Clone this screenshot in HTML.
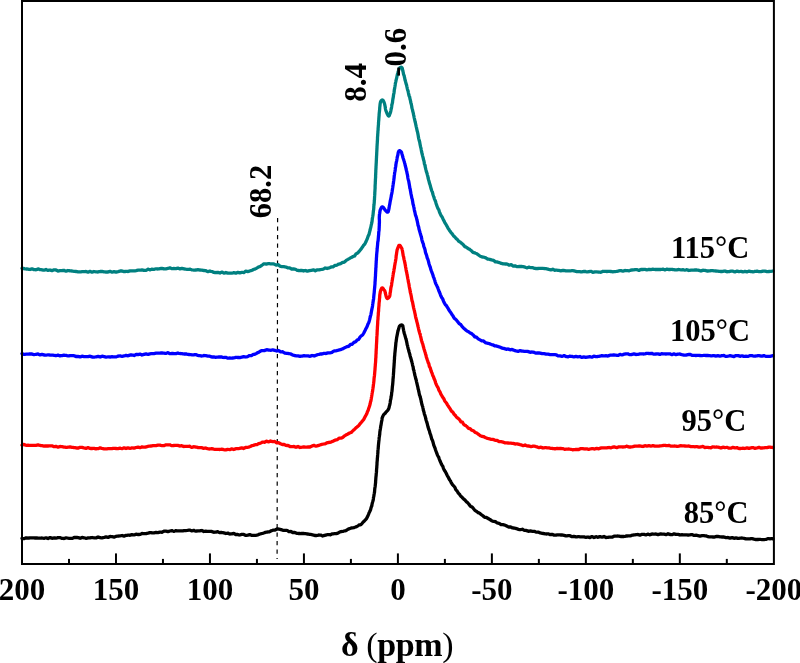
<!DOCTYPE html>
<html><head><meta charset="utf-8"><style>
html,body{margin:0;padding:0;background:#fff;width:800px;height:663px;overflow:hidden}
svg{display:block}
text{font-family:"Liberation Serif","Times New Roman",serif;font-weight:bold;font-size:31px;fill:#000}
.t{font-size:30.5px}
</style></head><body>
<svg width="800" height="663" viewBox="0 0 800 663">
<rect width="800" height="663" fill="#fff"/>
<line x1="277.6" y1="218" x2="277.1" y2="559" stroke="#000" stroke-width="1.2" stroke-dasharray="4.3 4.2"/>
<g fill="none" stroke-width="3.3" stroke-linejoin="round" stroke-linecap="round">
<path stroke="#000000" d="M22.0,538.4 L23.0,538.6 L24.0,538.7 L25.0,538.3 L26.0,537.9 L27.0,538.0 L28.0,538.1 L29.0,538.0 L30.0,537.9 L31.0,537.9 L32.0,537.8 L33.0,537.9 L34.0,537.9 L35.0,538.0 L36.0,538.0 L37.0,538.0 L38.0,538.1 L39.0,538.1 L40.0,538.2 L41.0,538.1 L42.0,538.0 L43.0,538.2 L44.0,538.3 L45.0,538.0 L46.0,537.8 L47.0,538.1 L48.0,538.5 L49.0,538.0 L50.0,537.6 L51.0,537.9 L52.0,538.3 L53.0,538.1 L54.0,538.0 L55.0,538.0 L56.0,538.1 L57.0,537.9 L58.0,537.6 L59.0,537.7 L60.0,537.7 L61.0,538.0 L62.0,538.4 L63.1,538.4 L64.1,538.5 L65.1,538.2 L66.1,537.8 L67.1,538.0 L68.1,538.2 L69.1,538.3 L70.1,538.4 L71.1,538.4 L72.1,538.4 L73.1,538.0 L74.1,537.5 L75.1,537.5 L76.1,537.4 L77.1,537.5 L78.1,537.6 L79.1,537.9 L80.1,538.3 L81.1,537.9 L82.1,537.4 L83.1,537.6 L84.1,537.8 L85.1,538.0 L86.1,538.3 L87.1,538.1 L88.1,537.8 L89.1,537.9 L90.1,537.9 L91.1,537.7 L92.1,537.5 L93.1,537.7 L94.1,537.8 L95.1,537.9 L96.1,537.9 L97.1,537.4 L98.1,537.0 L99.1,537.3 L100.1,537.7 L101.1,537.8 L102.1,537.9 L103.1,537.7 L104.1,537.5 L105.1,537.2 L106.1,536.9 L107.1,537.1 L108.1,537.4 L109.1,536.9 L110.1,536.5 L111.1,536.6 L112.1,536.7 L113.1,536.9 L114.1,537.1 L115.1,536.7 L116.1,536.3 L117.1,536.2 L118.1,536.1 L119.1,536.0 L120.1,535.8 L121.1,535.7 L122.1,535.5 L123.1,535.8 L124.1,536.1 L125.1,535.7 L126.1,535.4 L127.0,535.3 L128.0,535.2 L129.0,535.2 L130.0,535.3 L131.0,534.9 L132.0,534.6 L133.0,534.8 L134.0,534.9 L135.0,534.6 L136.0,534.2 L137.0,534.4 L138.0,534.5 L139.0,534.5 L140.0,534.4 L141.0,534.0 L142.0,533.5 L143.0,533.6 L144.0,533.6 L145.0,533.7 L146.0,533.7 L147.0,533.4 L148.0,533.2 L149.0,532.9 L150.0,532.6 L151.0,532.7 L152.0,532.9 L153.0,532.8 L154.0,532.8 L155.0,532.6 L156.0,532.4 L157.0,532.6 L157.9,532.7 L158.9,532.4 L159.9,532.1 L160.9,532.2 L161.9,532.3 L162.9,531.7 L163.9,531.2 L164.9,531.1 L165.9,531.1 L166.9,531.3 L167.9,531.6 L168.9,531.3 L169.9,531.0 L170.9,530.8 L171.9,530.6 L172.9,531.0 L173.9,531.3 L174.9,531.0 L175.9,530.6 L176.9,530.8 L177.9,530.9 L178.9,530.9 L179.9,530.8 L180.9,530.9 L181.9,530.9 L182.9,530.8 L183.9,530.6 L184.8,530.7 L185.8,530.7 L186.8,530.5 L187.8,530.3 L188.8,530.2 L189.8,530.2 L190.8,530.5 L191.8,530.9 L192.8,530.7 L193.8,530.4 L194.8,530.8 L195.8,531.1 L196.8,531.0 L197.8,530.9 L198.8,530.9 L199.8,530.9 L200.8,530.7 L201.8,530.5 L202.8,531.0 L203.8,531.5 L204.8,531.3 L205.8,531.1 L206.8,531.3 L207.8,531.4 L208.8,531.4 L209.8,531.4 L210.8,531.4 L211.8,531.4 L212.8,531.9 L213.8,532.3 L214.8,532.2 L215.8,532.2 L216.8,531.9 L217.8,531.7 L218.8,532.2 L219.8,532.6 L220.8,532.5 L221.8,532.5 L222.8,532.7 L223.8,532.9 L224.8,533.2 L225.8,533.5 L226.8,533.3 L227.8,533.1 L228.8,533.6 L229.8,534.0 L230.8,533.9 L231.8,533.9 L232.8,533.6 L233.8,533.4 L234.8,534.0 L235.8,534.6 L236.8,534.5 L237.8,534.5 L238.8,534.8 L239.8,535.0 L240.8,534.7 L241.8,534.3 L242.8,534.4 L243.8,534.4 L244.8,534.9 L245.8,535.4 L246.8,535.3 L247.8,535.2 L248.8,534.9 L249.8,534.6 L250.8,535.0 L251.8,535.4 L252.7,535.3 L253.7,535.3 L254.7,535.3 L255.7,535.4 L256.7,535.2 L257.7,534.9 L258.7,534.5 L259.7,534.0 L260.6,533.8 L261.6,533.5 L262.6,533.3 L263.6,533.0 L264.5,532.7 L265.5,532.4 L266.4,532.2 L267.4,532.0 L268.4,531.9 L269.3,531.9 L270.3,531.3 L271.2,530.8 L272.2,530.5 L273.2,530.2 L274.1,530.1 L275.1,530.0 L276.1,529.5 L277.0,528.9 L278.0,529.0 L279.0,529.1 L280.0,529.3 L281.0,529.6 L282.0,529.9 L282.9,530.3 L283.9,530.3 L284.9,530.3 L285.9,530.3 L286.9,530.3 L287.9,530.9 L288.9,531.6 L289.9,531.6 L290.9,531.5 L291.8,532.0 L292.8,532.6 L293.8,532.5 L294.8,532.5 L295.8,532.9 L296.7,533.3 L297.7,533.4 L298.7,533.5 L299.7,533.5 L300.6,533.6 L301.6,533.5 L302.6,533.4 L303.6,533.5 L304.6,533.6 L305.6,533.7 L306.6,533.9 L307.6,534.0 L308.6,534.1 L309.6,534.3 L310.6,534.4 L311.6,534.6 L312.6,534.8 L313.6,535.2 L314.7,535.5 L315.7,535.5 L316.7,535.5 L317.7,535.3 L318.7,535.0 L319.7,535.1 L320.7,535.1 L321.7,535.6 L322.6,536.0 L323.6,535.7 L324.6,535.4 L325.6,535.1 L326.6,534.8 L327.5,534.7 L328.5,534.6 L329.5,534.7 L330.4,534.8 L331.4,534.3 L332.4,533.8 L333.3,533.8 L334.3,533.7 L335.3,533.7 L336.2,533.7 L337.2,533.4 L338.1,533.0 L339.1,532.4 L340.1,531.8 L341.0,531.6 L342.0,531.5 L343.0,531.3 L344.0,531.0 L344.9,530.8 L345.9,530.6 L346.9,530.0 L347.9,529.3 L348.9,528.9 L349.9,528.5 L350.8,528.2 L351.8,527.9 L352.8,527.8 L353.8,527.7 L354.7,527.3 L355.6,527.0 L356.6,526.6 L357.5,526.1 L358.4,525.5 L359.2,524.9 L360.1,524.8 L360.9,524.6 L361.7,523.8 L362.4,523.0 L363.1,522.2 L363.8,521.5 L364.5,520.8 L365.1,520.2 L365.7,519.5 L366.3,518.9 L366.8,518.0 L367.3,517.1 L367.8,516.0 L368.3,514.9 L368.7,513.9 L369.1,512.8 L369.5,512.1 L369.9,511.3 L370.2,510.5 L370.6,509.7 L370.9,508.4 L371.2,507.2 L371.5,506.6 L371.8,505.9 L372.0,504.5 L372.3,503.1 L372.5,502.3 L372.8,501.4 L373.0,500.7 L373.2,500.0 L373.4,498.7 L373.5,497.4 L373.7,496.7 L373.9,495.9 L374.0,494.9 L374.2,493.8 L374.3,493.1 L374.5,492.3 L374.6,491.0 L374.7,489.6 L374.8,488.5 L375.0,487.4 L375.1,486.8 L375.2,486.2 L375.3,485.2 L375.4,484.2 L375.5,483.3 L375.6,482.4 L375.6,481.4 L375.7,480.5 L375.8,479.0 L375.9,477.5 L376.0,476.6 L376.1,475.7 L376.2,474.9 L376.2,474.1 L376.3,473.3 L376.4,472.5 L376.5,471.5 L376.5,470.5 L376.6,469.3 L376.7,468.1 L376.8,467.3 L376.8,466.5 L376.9,465.3 L377.0,464.2 L377.0,463.0 L377.1,461.9 L377.2,460.9 L377.3,460.0 L377.3,459.0 L377.4,458.1 L377.5,457.1 L377.6,456.0 L377.6,455.2 L377.7,454.4 L377.8,453.4 L377.9,452.4 L377.9,451.1 L378.0,449.8 L378.1,449.2 L378.2,448.5 L378.3,447.0 L378.4,445.6 L378.5,444.6 L378.6,443.6 L378.7,442.6 L378.8,441.6 L378.9,440.8 L379.0,440.0 L379.1,438.7 L379.2,437.5 L379.3,437.0 L379.4,436.5 L379.5,435.5 L379.7,434.4 L379.8,433.0 L379.9,431.5 L380.1,430.6 L380.2,429.7 L380.4,428.8 L380.5,428.0 L380.7,426.9 L380.8,425.8 L381.0,425.2 L381.1,424.5 L381.3,423.3 L381.5,422.0 L381.6,421.3 L381.8,420.7 L382.0,419.4 L382.1,418.2 L382.4,417.4 L382.7,416.6 L383.1,415.7 L383.6,414.8 L384.2,414.1 L385.0,413.5 L385.7,412.5 L386.5,411.6 L387.2,410.9 L387.8,410.2 L388.3,409.5 L388.7,408.8 L389.1,407.6 L389.3,406.3 L389.6,405.5 L389.8,404.6 L390.0,403.7 L390.2,402.7 L390.3,401.4 L390.5,400.1 L390.7,399.4 L390.9,398.8 L391.0,397.7 L391.2,396.6 L391.3,395.8 L391.5,395.0 L391.6,393.8 L391.7,392.5 L391.9,391.8 L392.0,391.2 L392.1,390.0 L392.2,388.8 L392.3,387.6 L392.4,386.4 L392.5,385.7 L392.6,385.1 L392.7,384.0 L392.8,382.9 L392.9,381.6 L393.0,380.3 L393.0,379.5 L393.1,378.7 L393.2,377.8 L393.3,376.9 L393.3,376.1 L393.4,375.2 L393.5,373.7 L393.6,372.2 L393.6,371.7 L393.7,371.3 L393.7,369.9 L393.8,368.6 L393.9,367.9 L393.9,367.3 L394.0,366.1 L394.1,364.9 L394.1,364.0 L394.2,363.1 L394.3,362.0 L394.3,360.8 L394.4,359.9 L394.5,358.9 L394.5,357.7 L394.6,356.5 L394.7,355.7 L394.8,354.9 L394.8,354.0 L394.9,353.1 L395.0,352.1 L395.1,351.2 L395.2,350.1 L395.3,349.1 L395.4,348.1 L395.5,347.1 L395.6,346.2 L395.7,345.3 L395.8,344.0 L395.9,342.7 L396.1,341.9 L396.2,341.1 L396.3,340.0 L396.5,338.9 L396.6,337.9 L396.8,336.8 L397.0,335.9 L397.2,334.9 L397.4,333.9 L397.6,332.9 L397.8,331.8 L398.1,330.8 L398.3,329.9 L398.6,329.1 L398.9,328.0 L399.2,326.9 L399.5,326.2 L400.0,325.7 L400.7,325.1 L401.6,325.0 L402.3,325.2 L402.8,325.8 L403.0,327.0 L403.2,328.2 L403.4,329.3 L403.6,330.3 L403.9,331.6 L404.1,332.7 L404.4,333.7 L404.7,334.6 L405.0,335.6 L405.2,336.5 L405.5,337.3 L405.7,338.2 L405.9,338.9 L406.2,339.7 L406.4,340.7 L406.6,341.7 L406.9,343.0 L407.1,344.3 L407.3,345.1 L407.6,345.9 L407.8,347.1 L408.1,348.2 L408.3,349.0 L408.6,349.9 L408.8,351.0 L409.1,352.0 L409.4,352.9 L409.6,353.7 L409.9,354.8 L410.1,355.9 L410.4,356.8 L410.6,357.6 L410.9,358.5 L411.2,359.4 L411.4,360.3 L411.6,361.2 L411.9,362.0 L412.1,362.9 L412.4,364.0 L412.6,365.1 L412.8,365.9 L413.1,366.8 L413.3,368.2 L413.5,369.7 L413.8,370.2 L414.0,370.8 L414.2,372.1 L414.5,373.4 L414.7,374.4 L414.9,375.4 L415.2,376.3 L415.4,377.2 L415.6,378.1 L415.8,379.0 L416.1,379.7 L416.3,380.5 L416.5,381.6 L416.8,382.8 L417.0,383.7 L417.2,384.6 L417.4,385.5 L417.7,386.4 L417.9,387.6 L418.1,388.8 L418.4,389.6 L418.6,390.4 L418.8,391.7 L419.1,393.0 L419.3,394.0 L419.5,395.0 L419.8,395.6 L420.0,396.2 L420.2,397.1 L420.5,398.0 L420.7,399.0 L421.0,400.0 L421.2,401.2 L421.4,402.3 L421.7,403.4 L421.9,404.5 L422.2,405.2 L422.4,405.9 L422.7,406.8 L422.9,407.8 L423.2,409.1 L423.4,410.4 L423.7,411.2 L423.9,411.9 L424.2,413.0 L424.4,414.1 L424.7,414.8 L425.0,415.6 L425.2,416.5 L425.5,417.3 L425.7,418.5 L426.0,419.7 L426.3,420.7 L426.6,421.6 L426.8,422.4 L427.1,423.2 L427.4,424.4 L427.7,425.6 L427.9,426.5 L428.2,427.5 L428.5,428.5 L428.8,429.5 L429.1,430.2 L429.4,430.9 L429.7,432.1 L430.0,433.4 L430.3,434.1 L430.6,434.8 L430.9,435.9 L431.2,437.0 L431.5,438.1 L431.8,439.2 L432.1,439.7 L432.4,440.3 L432.8,441.4 L433.1,442.5 L433.4,443.7 L433.7,445.0 L434.1,445.9 L434.4,446.8 L434.8,447.6 L435.1,448.4 L435.4,449.5 L435.8,450.6 L436.2,451.6 L436.5,452.6 L436.9,453.5 L437.2,454.3 L437.6,455.3 L438.0,456.2 L438.4,456.7 L438.7,457.2 L439.1,458.5 L439.5,459.7 L439.9,460.6 L440.3,461.6 L440.7,462.4 L441.1,463.3 L441.5,464.3 L442.0,465.3 L442.4,465.8 L442.8,466.3 L443.2,467.6 L443.7,468.9 L444.1,469.8 L444.6,470.7 L445.0,471.3 L445.5,471.9 L445.9,472.8 L446.4,473.7 L446.9,474.8 L447.4,475.8 L447.9,476.6 L448.3,477.3 L448.8,478.4 L449.4,479.5 L449.9,480.2 L450.4,480.8 L450.9,481.9 L451.4,482.9 L452.0,483.9 L452.5,484.8 L453.1,485.3 L453.6,485.8 L454.2,486.5 L454.8,487.2 L455.3,488.5 L455.9,489.7 L456.5,490.4 L457.1,491.0 L457.7,492.0 L458.3,493.1 L458.9,493.7 L459.6,494.3 L460.2,495.3 L460.8,496.2 L461.5,496.8 L462.1,497.3 L462.8,498.1 L463.4,498.8 L464.1,499.4 L464.8,499.9 L465.5,500.7 L466.2,501.6 L466.9,502.1 L467.6,502.7 L468.3,503.5 L469.0,504.3 L469.7,505.3 L470.4,506.3 L471.2,506.6 L471.9,506.8 L472.7,507.7 L473.4,508.5 L474.2,509.5 L475.0,510.4 L475.7,510.9 L476.5,511.4 L477.3,512.0 L478.1,512.6 L478.9,512.9 L479.7,513.2 L480.5,514.0 L481.4,514.7 L482.2,515.3 L483.0,515.9 L483.9,516.6 L484.7,517.4 L485.6,517.4 L486.4,517.5 L487.3,518.0 L488.2,518.5 L489.0,519.0 L489.9,519.4 L490.8,520.1 L491.7,520.8 L492.6,521.1 L493.5,521.3 L494.4,521.5 L495.4,521.6 L496.3,522.3 L497.2,522.9 L498.1,523.1 L499.1,523.3 L500.0,523.9 L501.0,524.6 L501.9,524.6 L502.9,524.6 L503.8,524.8 L504.8,525.0 L505.7,525.6 L506.7,526.1 L507.7,526.6 L508.6,527.0 L509.6,527.0 L510.6,527.0 L511.6,527.4 L512.6,527.9 L513.5,528.0 L514.5,528.1 L515.5,528.3 L516.5,528.6 L517.5,529.0 L518.5,529.4 L519.5,529.6 L520.5,529.7 L521.5,529.5 L522.4,529.2 L523.4,529.8 L524.4,530.4 L525.4,530.4 L526.4,530.5 L527.4,530.9 L528.4,531.3 L529.4,531.1 L530.4,530.9 L531.4,531.1 L532.4,531.3 L533.4,531.3 L534.4,531.4 L535.4,531.8 L536.3,532.1 L537.3,532.1 L538.3,532.1 L539.3,532.5 L540.3,533.0 L541.3,533.2 L542.3,533.4 L543.3,533.5 L544.2,533.6 L545.2,533.8 L546.2,534.0 L547.2,533.9 L548.2,533.8 L549.2,534.2 L550.2,534.6 L551.2,534.5 L552.1,534.4 L553.1,534.7 L554.1,535.1 L555.1,535.1 L556.1,535.1 L557.1,534.9 L558.1,534.8 L559.1,534.8 L560.0,534.9 L561.0,535.0 L562.0,535.0 L563.0,535.1 L564.0,535.3 L565.0,535.6 L566.0,535.9 L567.0,535.8 L568.0,535.7 L569.0,535.7 L570.0,535.7 L571.0,536.2 L572.0,536.7 L573.0,536.5 L574.0,536.4 L575.0,536.6 L576.0,536.9 L577.0,536.8 L578.0,536.7 L579.0,536.7 L580.0,536.8 L581.0,536.8 L582.0,536.9 L583.0,536.9 L584.0,536.9 L585.0,537.2 L586.0,537.4 L587.0,537.2 L588.0,537.0 L589.0,537.3 L590.0,537.6 L591.0,537.1 L592.0,536.6 L593.0,537.0 L594.0,537.5 L595.0,537.1 L596.0,536.7 L597.0,537.0 L598.0,537.3 L599.0,536.9 L600.0,536.6 L601.0,536.9 L602.0,537.1 L603.0,536.8 L604.0,536.5 L605.0,537.0 L606.0,537.5 L607.0,537.4 L608.0,537.4 L609.0,537.2 L610.0,537.1 L611.0,537.2 L612.0,537.2 L613.0,536.7 L614.0,536.2 L615.0,536.2 L616.0,536.1 L617.0,536.1 L618.0,536.0 L619.0,536.2 L620.0,536.4 L621.0,536.5 L622.0,536.5 L623.0,536.5 L624.0,536.5 L625.0,536.3 L626.0,536.0 L627.0,536.0 L628.0,535.9 L629.0,535.9 L630.0,535.9 L631.0,535.6 L632.0,535.2 L633.0,535.1 L634.0,534.9 L635.0,534.8 L636.0,534.7 L637.0,534.6 L638.0,534.5 L639.0,534.8 L640.0,535.1 L641.0,534.7 L642.0,534.3 L643.0,534.3 L644.0,534.3 L645.0,534.6 L646.0,534.8 L647.0,534.5 L648.0,534.2 L649.0,534.5 L650.0,534.8 L651.0,534.4 L652.0,534.0 L653.0,534.1 L654.0,534.2 L655.0,534.1 L656.0,534.0 L657.0,534.3 L658.0,534.6 L659.0,534.3 L660.0,534.0 L661.0,534.0 L662.0,534.1 L663.0,534.1 L664.0,534.2 L665.0,534.4 L666.0,534.6 L667.0,534.2 L668.0,533.7 L669.0,534.1 L670.0,534.5 L671.0,534.6 L672.0,534.7 L673.0,534.3 L674.0,533.8 L675.0,534.1 L676.0,534.4 L677.0,534.4 L678.0,534.3 L679.0,534.6 L680.0,535.0 L681.0,534.8 L682.0,534.7 L683.0,534.8 L684.0,534.9 L685.0,534.9 L686.0,534.8 L687.0,534.9 L688.0,535.1 L689.0,535.0 L690.0,534.8 L691.0,534.7 L692.0,534.6 L693.0,535.0 L694.0,535.4 L695.0,535.3 L696.0,535.2 L697.0,535.4 L698.0,535.6 L699.0,535.8 L700.0,536.1 L701.0,535.9 L702.0,535.7 L703.0,535.7 L704.0,535.7 L705.0,535.8 L706.0,535.9 L707.0,536.3 L708.0,536.7 L709.0,536.8 L710.0,536.9 L711.0,536.9 L712.0,536.9 L713.0,537.0 L714.0,537.1 L715.0,536.8 L716.0,536.5 L717.0,536.5 L718.0,536.5 L719.0,536.6 L720.0,536.8 L721.0,536.9 L722.0,537.0 L723.0,537.0 L724.0,537.0 L725.0,537.3 L726.0,537.6 L727.0,537.6 L728.0,537.5 L729.0,537.8 L730.0,538.1 L731.0,537.8 L732.0,537.6 L733.0,537.9 L734.0,538.3 L735.0,538.1 L736.0,537.9 L737.0,538.1 L738.0,538.4 L739.0,538.3 L740.0,538.2 L741.0,538.1 L742.0,538.0 L743.0,538.2 L744.0,538.3 L745.0,538.6 L746.0,538.9 L747.0,538.8 L748.0,538.8 L749.0,538.8 L750.0,538.9 L751.0,538.7 L752.0,538.6 L753.0,538.8 L754.0,539.1 L755.0,539.3 L756.0,539.6 L757.0,539.5 L758.0,539.5 L759.0,539.4 L760.0,539.3 L761.0,539.5 L762.0,539.7 L763.0,539.7 L764.0,539.7 L765.0,539.5 L766.0,539.3 L767.0,539.0 L768.0,538.7 L769.0,538.7 L770.0,538.8 L771.0,538.7 L772.0,538.7 L773.0,538.9"/>
<path stroke="#ff0000" d="M22.0,445.2 L23.0,444.8 L24.0,444.4 L25.0,444.9 L26.0,445.3 L27.0,445.3 L28.0,445.2 L29.0,445.3 L30.0,445.4 L31.0,445.3 L32.0,445.3 L33.0,445.4 L34.0,445.4 L35.0,445.4 L36.0,445.3 L37.0,445.1 L38.0,444.9 L39.0,445.2 L40.0,445.4 L41.0,445.6 L42.0,445.7 L43.0,445.9 L44.0,446.1 L45.0,446.0 L46.0,445.9 L47.0,446.0 L48.0,446.0 L49.0,445.9 L50.0,445.8 L51.0,445.8 L52.0,445.8 L53.0,446.2 L54.0,446.7 L55.0,446.5 L56.0,446.4 L57.0,446.8 L58.0,447.2 L59.0,446.8 L60.0,446.5 L61.0,446.6 L62.0,446.7 L63.0,446.9 L64.0,447.1 L65.0,447.2 L66.0,447.4 L67.0,447.3 L68.0,447.2 L69.0,447.1 L70.0,446.9 L71.0,447.1 L72.0,447.3 L73.0,447.4 L74.0,447.6 L75.0,447.7 L76.0,447.9 L77.0,448.0 L78.0,448.1 L79.0,447.7 L80.0,447.4 L81.0,447.4 L82.0,447.4 L83.0,447.7 L84.0,448.0 L85.0,448.2 L86.0,448.4 L87.0,448.0 L88.0,447.6 L89.0,448.0 L90.0,448.4 L91.0,448.5 L92.0,448.5 L93.0,448.4 L94.0,448.3 L95.0,448.6 L96.0,448.9 L97.0,448.7 L98.0,448.6 L99.0,448.3 L100.0,447.9 L101.0,448.2 L102.0,448.5 L103.0,448.7 L104.0,448.9 L105.0,448.9 L106.0,448.9 L107.0,448.8 L108.0,448.7 L109.0,448.7 L110.0,448.7 L111.0,448.7 L112.0,448.6 L113.0,448.4 L114.0,448.3 L115.0,448.4 L116.0,448.5 L117.0,448.6 L118.0,448.6 L119.0,448.4 L120.0,448.2 L121.0,448.5 L122.0,448.7 L123.0,448.3 L124.0,447.9 L125.0,448.2 L126.0,448.5 L127.0,448.2 L128.0,447.9 L129.0,448.1 L130.0,448.3 L131.0,448.1 L132.0,447.8 L133.0,448.0 L134.0,448.1 L135.0,447.8 L136.0,447.5 L137.0,447.3 L138.0,447.2 L139.0,447.4 L140.0,447.6 L141.0,447.3 L142.0,446.9 L143.0,447.1 L144.0,447.2 L145.0,447.1 L146.0,447.0 L147.0,446.7 L148.0,446.3 L149.0,446.2 L150.0,446.1 L151.0,446.0 L152.0,445.9 L153.0,445.7 L154.0,445.6 L155.0,445.7 L156.0,445.7 L157.0,445.4 L158.0,445.2 L158.9,445.1 L159.9,445.1 L160.9,445.4 L161.9,445.6 L162.9,445.6 L163.9,445.6 L164.9,445.2 L165.9,444.8 L166.9,444.8 L167.9,444.9 L168.9,444.9 L169.9,444.8 L170.8,445.2 L171.8,445.6 L172.8,445.6 L173.8,445.5 L174.8,445.4 L175.8,445.4 L176.8,445.3 L177.7,445.3 L178.7,445.6 L179.7,446.0 L180.7,445.9 L181.7,445.7 L182.7,446.1 L183.7,446.5 L184.7,446.4 L185.6,446.4 L186.6,446.4 L187.6,446.4 L188.6,446.3 L189.6,446.2 L190.6,446.8 L191.6,447.4 L192.6,447.1 L193.6,446.7 L194.6,446.9 L195.6,447.0 L196.6,447.2 L197.6,447.5 L198.6,447.6 L199.6,447.7 L200.6,447.6 L201.6,447.6 L202.6,448.0 L203.6,448.4 L204.6,448.2 L205.6,448.0 L206.6,448.4 L207.6,448.7 L208.6,448.9 L209.6,449.0 L210.6,448.8 L211.7,448.6 L212.7,448.9 L213.7,449.2 L214.7,449.3 L215.7,449.4 L216.7,449.4 L217.7,449.4 L218.7,449.4 L219.7,449.5 L220.7,449.3 L221.7,449.2 L222.7,449.4 L223.7,449.7 L224.7,449.8 L225.7,449.9 L226.7,449.6 L227.7,449.3 L228.7,449.5 L229.7,449.7 L230.7,449.2 L231.7,448.8 L232.7,449.2 L233.7,449.5 L234.7,449.1 L235.7,448.7 L236.7,448.7 L237.6,448.7 L238.6,448.6 L239.6,448.4 L240.6,448.1 L241.6,447.9 L242.6,448.2 L243.5,448.5 L244.5,448.0 L245.5,447.5 L246.5,447.4 L247.4,447.3 L248.4,447.1 L249.4,446.8 L250.3,446.4 L251.3,445.9 L252.2,445.7 L253.2,445.5 L254.1,445.1 L255.1,444.7 L256.1,444.7 L257.0,444.6 L257.9,444.1 L258.9,443.6 L259.8,443.3 L260.8,443.0 L261.7,442.6 L262.7,442.1 L263.6,442.2 L264.6,442.3 L265.6,441.8 L266.5,441.2 L267.5,441.5 L268.5,441.9 L269.5,441.5 L270.5,441.0 L271.6,441.3 L272.6,441.7 L273.6,441.6 L274.6,441.5 L275.7,442.1 L276.7,442.8 L277.6,442.8 L278.6,442.7 L279.6,443.2 L280.5,443.7 L281.4,444.1 L282.4,444.5 L283.3,444.5 L284.2,444.5 L285.2,445.0 L286.1,445.4 L287.1,445.5 L288.1,445.5 L289.1,446.0 L290.0,446.5 L291.0,446.6 L292.0,446.7 L293.0,446.6 L294.0,446.4 L295.0,446.9 L296.0,447.3 L297.0,446.9 L298.0,446.5 L299.0,447.0 L300.0,447.5 L301.0,447.3 L302.0,447.2 L303.0,447.0 L304.0,446.9 L305.0,447.1 L306.0,447.2 L307.0,447.1 L308.0,447.0 L309.0,447.0 L310.0,447.1 L311.0,446.6 L312.0,446.0 L313.0,445.7 L314.0,445.4 L315.0,445.8 L316.0,446.1 L317.0,445.9 L317.9,445.6 L318.9,445.3 L319.9,445.0 L320.9,444.7 L321.9,444.3 L322.8,444.2 L323.8,444.0 L324.8,443.8 L325.7,443.6 L326.7,443.1 L327.7,442.6 L328.6,442.5 L329.6,442.4 L330.5,442.1 L331.5,441.8 L332.5,441.4 L333.4,441.0 L334.3,440.5 L335.3,440.1 L336.2,439.9 L337.2,439.7 L338.1,439.0 L339.0,438.2 L339.9,438.2 L340.8,438.2 L341.7,437.9 L342.6,437.5 L343.5,436.7 L344.4,435.9 L345.3,435.4 L346.2,434.8 L347.0,434.4 L347.9,434.0 L348.7,433.5 L349.6,433.0 L350.4,432.7 L351.2,432.5 L352.0,431.7 L352.8,430.9 L353.6,430.1 L354.4,429.4 L355.2,428.6 L355.9,427.9 L356.7,427.3 L357.4,426.6 L358.1,426.1 L358.8,425.5 L359.5,424.6 L360.1,423.7 L360.8,423.0 L361.4,422.3 L362.0,421.5 L362.6,420.7 L363.2,420.1 L363.7,419.5 L364.3,418.4 L364.8,417.3 L365.3,416.4 L365.8,415.5 L366.2,414.8 L366.6,414.1 L367.1,412.9 L367.4,411.8 L367.8,411.0 L368.2,410.2 L368.5,409.1 L368.8,408.1 L369.1,407.3 L369.4,406.5 L369.7,405.7 L369.9,404.9 L370.2,403.7 L370.4,402.5 L370.6,401.7 L370.9,400.9 L371.1,399.7 L371.3,398.5 L371.4,397.6 L371.6,396.8 L371.8,395.5 L372.0,394.2 L372.1,393.4 L372.3,392.5 L372.4,391.8 L372.6,391.1 L372.7,389.9 L372.9,388.7 L373.0,387.8 L373.2,386.9 L373.3,385.8 L373.4,384.7 L373.6,383.7 L373.7,382.7 L373.8,381.9 L373.9,381.1 L374.0,379.6 L374.1,378.2 L374.2,377.5 L374.3,376.8 L374.4,376.0 L374.5,375.2 L374.6,374.0 L374.7,372.8 L374.8,371.6 L374.9,370.4 L375.0,369.8 L375.0,369.2 L375.1,367.8 L375.2,366.5 L375.3,365.8 L375.3,365.0 L375.4,363.9 L375.5,362.9 L375.6,362.1 L375.6,361.3 L375.7,360.1 L375.7,359.0 L375.8,358.1 L375.9,357.2 L375.9,355.8 L376.0,354.3 L376.0,353.9 L376.1,353.4 L376.1,351.9 L376.2,350.4 L376.2,349.5 L376.3,348.7 L376.3,348.0 L376.4,347.4 L376.4,345.9 L376.5,344.3 L376.5,343.8 L376.6,343.2 L376.6,342.3 L376.7,341.3 L376.7,340.1 L376.8,338.8 L376.8,337.7 L376.9,336.6 L376.9,335.9 L377.0,335.2 L377.1,334.0 L377.1,332.8 L377.2,331.6 L377.2,330.4 L377.3,329.9 L377.3,329.3 L377.4,328.3 L377.4,327.2 L377.5,326.0 L377.6,324.8 L377.6,324.0 L377.7,323.2 L377.7,321.9 L377.8,320.6 L377.9,319.8 L378.0,318.9 L378.0,317.7 L378.1,316.6 L378.2,315.6 L378.3,314.6 L378.3,313.5 L378.4,312.3 L378.5,311.7 L378.6,311.1 L378.6,309.7 L378.7,308.4 L378.8,307.2 L378.9,306.1 L379.0,305.2 L379.0,304.2 L379.1,303.1 L379.2,302.1 L379.3,301.5 L379.4,300.9 L379.4,299.9 L379.5,298.8 L379.6,298.0 L379.7,297.2 L379.7,296.1 L379.8,295.0 L379.9,294.2 L380.1,293.3 L380.2,292.3 L380.5,291.2 L380.8,290.1 L381.3,289.1 L381.8,288.1 L382.5,287.9 L383.2,288.7 L383.9,289.7 L384.4,290.3 L384.8,290.9 L385.1,291.9 L385.3,293.0 L385.6,294.1 L385.9,295.4 L386.2,296.7 L386.7,297.9 L387.2,298.5 L387.7,298.5 L388.4,298.0 L389.0,297.2 L389.5,296.5 L389.8,295.8 L390.0,294.5 L390.1,293.2 L390.2,292.6 L390.4,292.0 L390.5,290.8 L390.7,289.6 L390.8,288.5 L391.0,287.3 L391.2,286.6 L391.4,285.9 L391.6,284.7 L391.7,283.6 L391.9,282.4 L392.1,281.3 L392.2,280.6 L392.4,279.9 L392.5,278.7 L392.7,277.5 L392.9,276.5 L393.0,275.5 L393.2,274.5 L393.3,273.5 L393.5,272.7 L393.7,271.9 L393.9,270.7 L394.0,269.4 L394.2,268.7 L394.4,268.0 L394.5,266.8 L394.7,265.5 L394.9,264.6 L395.0,263.8 L395.2,262.8 L395.4,261.7 L395.5,261.0 L395.7,260.2 L395.8,259.2 L396.0,258.2 L396.1,256.9 L396.2,255.5 L396.4,254.8 L396.5,254.0 L396.6,253.2 L396.7,252.4 L396.9,251.2 L397.1,249.9 L397.4,249.2 L397.7,248.5 L398.2,247.1 L398.7,245.7 L399.4,245.3 L400.1,245.6 L400.7,246.5 L401.3,247.5 L401.7,248.2 L402.0,248.9 L402.2,249.8 L402.4,250.6 L402.6,251.8 L402.8,253.0 L403.0,254.2 L403.2,255.5 L403.4,256.2 L403.6,256.8 L403.8,258.0 L404.0,259.3 L404.2,259.9 L404.4,260.6 L404.6,261.6 L404.8,262.7 L405.0,263.6 L405.2,264.5 L405.4,265.8 L405.6,267.1 L405.8,268.0 L406.0,269.0 L406.1,270.0 L406.3,271.0 L406.5,271.7 L406.7,272.5 L406.9,273.7 L407.1,274.9 L407.3,275.6 L407.4,276.4 L407.6,277.5 L407.8,278.6 L408.0,279.5 L408.2,280.5 L408.3,281.4 L408.5,282.4 L408.7,283.2 L408.9,284.1 L409.1,285.4 L409.3,286.7 L409.5,287.7 L409.7,288.7 L409.9,289.6 L410.1,290.6 L410.2,291.6 L410.4,292.6 L410.6,293.3 L410.8,294.0 L411.0,295.0 L411.2,295.9 L411.4,297.1 L411.6,298.3 L411.8,299.5 L412.0,300.7 L412.2,301.3 L412.5,301.9 L412.7,303.0 L412.9,304.1 L413.1,305.1 L413.3,306.1 L413.5,307.1 L413.7,308.1 L413.9,308.9 L414.1,309.7 L414.4,310.7 L414.6,311.8 L414.8,312.8 L415.0,313.7 L415.3,315.0 L415.5,316.3 L415.7,317.2 L415.9,318.2 L416.2,319.0 L416.4,319.7 L416.6,320.8 L416.9,321.9 L417.1,322.6 L417.3,323.3 L417.6,324.5 L417.8,325.7 L418.0,326.5 L418.3,327.4 L418.5,328.6 L418.8,329.9 L419.0,330.8 L419.3,331.7 L419.5,332.6 L419.8,333.6 L420.0,334.2 L420.3,334.9 L420.5,336.1 L420.8,337.2 L421.1,338.5 L421.3,339.7 L421.6,340.7 L421.9,341.6 L422.1,342.4 L422.4,343.2 L422.7,343.9 L422.9,344.6 L423.2,345.8 L423.5,347.1 L423.8,348.0 L424.0,348.9 L424.3,349.8 L424.6,350.7 L424.9,351.7 L425.2,352.6 L425.5,353.7 L425.8,354.7 L426.1,355.8 L426.3,356.9 L426.6,357.8 L426.9,358.7 L427.2,359.6 L427.5,360.4 L427.9,361.6 L428.2,362.7 L428.5,363.2 L428.8,363.7 L429.1,365.1 L429.4,366.6 L429.7,367.0 L430.1,367.5 L430.4,368.5 L430.7,369.5 L431.0,370.6 L431.4,371.6 L431.7,372.4 L432.1,373.2 L432.4,374.4 L432.8,375.6 L433.1,376.2 L433.5,376.8 L433.8,377.9 L434.2,379.0 L434.6,379.8 L435.0,380.6 L435.3,381.8 L435.7,383.1 L436.1,384.0 L436.5,384.9 L436.9,385.7 L437.3,386.4 L437.7,387.2 L438.2,388.0 L438.6,389.2 L439.0,390.4 L439.5,391.1 L439.9,391.8 L440.4,392.9 L440.8,394.1 L441.3,394.8 L441.7,395.5 L442.2,396.4 L442.7,397.3 L443.2,397.9 L443.7,398.5 L444.2,399.7 L444.7,400.9 L445.2,401.6 L445.8,402.2 L446.3,403.0 L446.9,403.8 L447.4,404.8 L448.0,405.7 L448.5,406.5 L449.1,407.3 L449.7,408.2 L450.3,409.1 L450.9,410.1 L451.5,411.2 L452.1,411.7 L452.8,412.2 L453.4,413.2 L454.0,414.2 L454.7,414.8 L455.4,415.5 L456.0,416.4 L456.7,417.4 L457.4,417.8 L458.1,418.3 L458.8,418.9 L459.5,419.6 L460.2,420.7 L460.9,421.8 L461.6,422.0 L462.4,422.2 L463.1,423.4 L463.9,424.6 L464.6,425.0 L465.4,425.4 L466.2,426.0 L466.9,426.5 L467.7,427.5 L468.5,428.4 L469.3,428.5 L470.1,428.6 L470.9,429.4 L471.8,430.2 L472.6,430.5 L473.4,430.8 L474.3,431.6 L475.1,432.4 L476.0,432.7 L476.8,433.0 L477.7,433.7 L478.6,434.4 L479.4,435.0 L480.3,435.7 L481.2,436.0 L482.1,436.4 L483.0,436.5 L483.9,436.7 L484.8,437.2 L485.8,437.7 L486.7,438.1 L487.6,438.4 L488.6,438.6 L489.5,438.8 L490.4,439.1 L491.4,439.4 L492.3,439.4 L493.3,439.5 L494.3,439.9 L495.2,440.3 L496.2,440.4 L497.2,440.5 L498.1,441.0 L499.1,441.6 L500.1,441.6 L501.1,441.7 L502.1,441.9 L503.1,442.1 L504.1,442.5 L505.1,442.9 L506.0,442.9 L507.0,442.9 L508.0,443.0 L509.0,443.1 L510.0,443.2 L511.0,443.2 L512.0,443.3 L513.1,443.3 L514.1,443.6 L515.1,444.0 L516.1,443.9 L517.1,443.8 L518.1,444.1 L519.1,444.4 L520.1,444.7 L521.1,444.9 L522.1,445.3 L523.1,445.7 L524.1,445.4 L525.1,445.0 L526.1,445.5 L527.1,445.9 L528.1,446.0 L529.1,446.0 L530.1,446.3 L531.1,446.6 L532.1,446.4 L533.1,446.1 L534.1,446.2 L535.1,446.3 L536.0,446.6 L537.0,446.9 L538.0,447.3 L539.0,447.6 L540.0,447.4 L541.0,447.2 L542.0,447.6 L543.0,448.0 L544.0,447.8 L545.0,447.7 L546.0,447.7 L547.0,447.8 L548.0,447.8 L549.0,447.8 L550.0,448.1 L551.0,448.3 L551.9,448.4 L552.9,448.5 L553.9,448.7 L554.9,448.9 L555.9,448.6 L556.9,448.4 L557.9,448.5 L558.9,448.6 L559.9,448.5 L560.9,448.5 L561.9,448.6 L562.9,448.7 L563.9,449.0 L564.9,449.3 L565.9,449.2 L566.9,449.1 L567.9,449.1 L568.9,449.0 L569.9,449.2 L570.9,449.3 L571.9,449.5 L572.9,449.8 L573.8,449.7 L574.8,449.6 L575.8,449.5 L576.8,449.4 L577.8,449.5 L578.8,449.6 L579.8,449.1 L580.8,448.6 L581.8,448.6 L582.8,448.6 L583.8,448.8 L584.8,449.0 L585.8,448.9 L586.8,448.8 L587.8,449.1 L588.8,449.3 L589.8,449.0 L590.8,448.8 L591.8,448.7 L592.8,448.7 L593.8,448.9 L594.8,449.0 L595.8,448.7 L596.8,448.4 L597.8,448.6 L598.8,448.8 L599.8,448.4 L600.8,448.0 L601.8,447.9 L602.8,447.9 L603.8,447.9 L604.8,447.8 L605.8,447.9 L606.8,447.9 L607.8,447.7 L608.8,447.5 L609.8,447.6 L610.8,447.8 L611.8,447.5 L612.8,447.1 L613.8,447.0 L614.8,447.0 L615.8,447.3 L616.8,447.7 L617.8,447.3 L618.8,446.9 L619.8,446.9 L620.9,446.9 L621.9,446.9 L622.9,447.0 L623.9,446.9 L624.9,446.8 L625.9,446.5 L626.9,446.2 L627.9,446.6 L628.9,447.0 L629.9,447.0 L630.9,447.0 L631.9,446.8 L632.9,446.7 L633.9,446.4 L634.9,446.1 L635.9,446.1 L636.9,446.2 L637.9,446.1 L638.9,446.0 L639.9,446.0 L640.9,446.1 L641.9,446.3 L642.9,446.5 L643.9,446.1 L644.9,445.7 L645.9,445.9 L646.9,446.1 L647.9,445.9 L648.9,445.7 L649.9,445.9 L650.9,446.1 L651.9,445.9 L652.9,445.6 L653.9,445.9 L654.9,446.2 L655.9,446.2 L656.9,446.1 L657.9,446.1 L658.9,446.1 L659.9,445.9 L660.9,445.8 L661.9,445.7 L662.9,445.5 L663.9,445.4 L664.9,445.4 L665.9,445.5 L666.9,445.7 L667.9,445.6 L668.9,445.4 L669.9,445.8 L670.9,446.2 L671.9,446.2 L672.9,446.2 L673.9,446.1 L674.9,446.0 L675.9,446.2 L676.9,446.4 L677.9,446.3 L678.9,446.2 L679.9,445.9 L680.9,445.7 L681.9,445.8 L682.9,445.9 L683.9,445.9 L684.9,446.0 L685.9,446.1 L686.9,446.2 L687.9,446.1 L688.9,446.0 L689.9,446.3 L690.9,446.7 L691.9,446.6 L692.9,446.6 L693.9,446.7 L694.9,446.8 L695.9,446.7 L696.9,446.7 L697.9,446.9 L698.9,447.2 L699.9,447.0 L700.9,446.9 L701.9,446.7 L702.9,446.4 L703.9,447.0 L704.9,447.5 L705.9,447.4 L706.9,447.3 L707.9,447.4 L708.9,447.6 L709.9,447.7 L710.9,447.8 L711.9,447.3 L712.9,446.8 L713.9,447.0 L714.9,447.1 L715.9,447.1 L716.9,447.0 L717.9,447.2 L718.9,447.4 L719.9,447.7 L720.9,448.0 L721.9,447.6 L722.9,447.2 L723.9,447.4 L724.9,447.7 L725.9,447.5 L726.9,447.3 L727.9,447.7 L728.9,448.1 L729.9,448.2 L730.9,448.2 L731.9,447.8 L732.9,447.4 L733.9,447.6 L734.9,447.9 L735.9,447.8 L736.9,447.6 L737.9,448.1 L738.9,448.5 L739.9,448.5 L740.9,448.5 L741.9,448.3 L742.9,448.1 L743.9,448.3 L744.9,448.5 L745.9,448.2 L747.0,447.8 L748.0,448.1 L749.0,448.4 L750.0,448.1 L751.0,447.9 L752.0,447.7 L753.0,447.6 L754.0,448.0 L755.0,448.4 L756.0,448.2 L757.0,448.0 L758.0,447.7 L759.0,447.3 L760.0,447.7 L761.0,448.1 L762.0,448.0 L763.0,447.9 L764.0,447.8 L765.0,447.7 L766.0,447.7 L767.0,447.7 L768.0,447.4 L769.0,447.1 L770.0,447.2 L771.0,447.4 L772.0,447.4 L773.0,447.5"/>
<path stroke="#0000ff" d="M22.0,353.6 L23.0,354.0 L24.0,354.4 L25.0,354.3 L26.0,354.2 L27.0,354.2 L28.0,354.2 L29.0,354.0 L30.0,353.9 L31.0,354.0 L32.0,354.0 L33.0,354.4 L34.0,354.7 L35.0,354.5 L36.0,354.3 L37.0,354.1 L38.0,354.0 L39.0,354.5 L40.0,354.9 L41.0,354.6 L42.0,354.3 L43.0,354.6 L44.0,355.0 L45.0,355.1 L46.0,355.2 L47.0,355.0 L48.0,354.8 L49.0,354.9 L50.0,355.1 L51.0,355.1 L52.0,355.1 L53.0,355.2 L54.0,355.3 L55.0,355.5 L56.0,355.6 L57.0,355.4 L58.0,355.1 L59.0,355.5 L60.0,355.9 L61.0,355.7 L62.0,355.6 L63.0,355.4 L64.0,355.2 L65.0,355.3 L66.0,355.4 L67.0,355.7 L68.0,355.9 L69.0,355.8 L70.0,355.6 L71.0,355.6 L72.0,355.6 L73.0,355.7 L74.0,355.7 L75.0,356.1 L76.0,356.6 L77.0,356.5 L78.0,356.4 L79.0,356.6 L80.0,356.9 L81.0,356.6 L82.0,356.2 L83.0,356.4 L84.0,356.6 L85.1,356.6 L86.1,356.7 L87.1,356.7 L88.1,356.7 L89.1,356.4 L90.1,356.2 L91.1,356.6 L92.1,357.0 L93.1,357.1 L94.1,357.2 L95.1,357.0 L96.1,356.8 L97.1,356.6 L98.1,356.4 L99.1,356.7 L100.1,357.0 L101.1,356.6 L102.1,356.2 L103.1,356.4 L104.1,356.6 L105.1,356.9 L106.1,357.2 L107.1,357.0 L108.1,356.8 L109.1,356.9 L110.1,357.0 L111.1,356.9 L112.1,356.7 L113.1,356.8 L114.1,356.9 L115.1,356.9 L116.1,356.8 L117.1,356.5 L118.1,356.1 L119.1,356.0 L120.1,355.8 L121.1,356.1 L122.1,356.3 L123.1,356.1 L124.1,355.9 L125.1,355.7 L126.1,355.4 L127.1,355.6 L128.1,355.8 L129.1,355.4 L130.1,355.0 L131.1,355.0 L132.1,355.0 L133.1,355.2 L134.1,355.5 L135.1,355.0 L136.1,354.4 L137.1,354.5 L138.0,354.6 L139.0,354.3 L140.0,354.1 L141.0,354.5 L142.0,355.0 L143.0,354.7 L144.0,354.4 L145.0,354.1 L146.0,353.9 L147.0,354.2 L148.0,354.4 L149.0,354.1 L150.0,353.8 L151.0,353.7 L152.0,353.6 L153.0,353.6 L154.0,353.6 L155.0,353.4 L156.0,353.2 L157.0,353.1 L158.0,353.1 L159.0,353.1 L160.0,353.1 L161.0,353.0 L162.0,352.9 L163.0,353.1 L164.0,353.2 L165.0,353.3 L166.0,353.3 L167.0,353.0 L168.0,352.7 L169.0,353.2 L170.0,353.7 L171.0,353.6 L171.9,353.5 L172.9,353.5 L173.9,353.6 L174.9,353.6 L175.9,353.6 L176.9,353.3 L177.9,353.0 L178.9,353.3 L179.9,353.5 L180.9,353.6 L181.9,353.6 L182.9,353.8 L183.9,354.0 L184.9,354.0 L185.9,353.9 L186.9,354.2 L187.9,354.4 L188.9,354.5 L189.9,354.6 L190.9,354.7 L191.9,354.8 L192.9,354.8 L193.8,354.9 L194.8,354.7 L195.8,354.6 L196.8,355.0 L197.8,355.4 L198.8,355.6 L199.8,355.7 L200.8,355.9 L201.8,356.0 L202.8,355.8 L203.8,355.5 L204.8,355.6 L205.8,355.7 L206.8,355.9 L207.8,356.1 L208.8,356.2 L209.8,356.2 L210.8,356.6 L211.8,357.0 L212.8,357.0 L213.8,356.9 L214.8,357.1 L215.8,357.3 L216.8,357.2 L217.8,357.1 L218.8,357.0 L219.8,356.9 L220.8,357.0 L221.8,357.0 L222.8,357.3 L223.8,357.5 L224.8,357.4 L225.8,357.4 L226.8,357.8 L227.8,358.2 L228.8,358.1 L229.8,358.0 L230.8,358.1 L231.8,358.1 L232.8,358.0 L233.8,357.9 L234.8,357.7 L235.8,357.4 L236.8,357.4 L237.8,357.5 L238.8,357.5 L239.7,357.6 L240.7,357.3 L241.7,357.1 L242.7,356.8 L243.7,356.6 L244.7,356.8 L245.6,357.0 L246.6,356.8 L247.6,356.6 L248.5,356.1 L249.5,355.6 L250.5,355.6 L251.4,355.6 L252.4,355.0 L253.3,354.4 L254.3,354.3 L255.2,354.1 L256.1,353.6 L257.1,353.0 L258.0,352.5 L259.0,352.1 L259.9,351.5 L260.9,350.9 L261.8,350.7 L262.8,350.6 L263.8,350.6 L264.7,350.6 L265.7,350.1 L266.7,349.7 L267.7,349.9 L268.7,350.2 L269.7,350.2 L270.7,350.3 L271.7,350.0 L272.7,349.8 L273.7,350.1 L274.7,350.4 L275.7,350.7 L276.7,351.0 L277.6,350.8 L278.6,350.5 L279.6,351.2 L280.6,351.9 L281.6,351.8 L282.5,351.7 L283.5,352.3 L284.5,353.0 L285.4,353.1 L286.4,353.3 L287.4,353.4 L288.4,353.5 L289.3,353.7 L290.3,353.8 L291.3,354.3 L292.2,354.8 L293.2,355.2 L294.2,355.5 L295.2,355.6 L296.2,355.8 L297.2,355.8 L298.1,355.8 L299.1,356.1 L300.1,356.4 L301.1,356.2 L302.1,356.1 L303.1,355.9 L304.1,355.7 L305.1,355.8 L306.1,355.9 L307.1,355.8 L308.1,355.8 L309.1,356.1 L310.1,356.3 L311.1,355.9 L312.1,355.5 L313.1,355.7 L314.1,356.0 L315.1,355.6 L316.1,355.2 L317.1,354.8 L318.1,354.5 L319.1,354.3 L320.1,354.0 L321.0,354.0 L322.0,354.0 L323.0,353.7 L324.0,353.3 L325.0,353.4 L326.0,353.5 L327.0,353.1 L328.0,352.8 L328.9,352.9 L329.9,352.9 L330.9,352.7 L331.9,352.4 L332.8,351.7 L333.8,351.1 L334.8,350.9 L335.7,350.8 L336.7,350.6 L337.6,350.3 L338.6,350.1 L339.5,349.8 L340.5,349.6 L341.4,349.4 L342.3,348.9 L343.3,348.4 L344.2,348.0 L345.1,347.6 L346.0,347.1 L346.9,346.6 L347.8,346.5 L348.7,346.4 L349.6,345.4 L350.5,344.4 L351.3,344.3 L352.2,344.3 L353.0,343.3 L353.9,342.4 L354.7,342.1 L355.5,341.8 L356.3,341.0 L357.1,340.1 L357.8,339.8 L358.6,339.5 L359.3,338.3 L360.0,337.1 L360.7,336.4 L361.3,335.7 L362.0,335.4 L362.6,335.0 L363.2,334.0 L363.8,333.0 L364.3,332.0 L364.8,331.0 L365.3,330.0 L365.8,328.9 L366.2,328.2 L366.7,327.4 L367.1,326.4 L367.5,325.5 L367.8,324.5 L368.2,323.6 L368.5,323.1 L368.8,322.5 L369.1,321.5 L369.4,320.5 L369.7,319.4 L369.9,318.4 L370.2,317.3 L370.4,316.1 L370.7,315.4 L370.9,314.6 L371.1,313.4 L371.3,312.2 L371.5,311.2 L371.7,310.1 L371.9,309.1 L372.1,308.1 L372.3,307.4 L372.4,306.8 L372.6,305.5 L372.7,304.2 L372.9,303.3 L373.0,302.4 L373.2,301.3 L373.3,300.2 L373.5,299.5 L373.6,298.9 L373.7,297.6 L373.8,296.4 L373.9,295.3 L374.0,294.3 L374.1,293.5 L374.2,292.8 L374.3,291.5 L374.4,290.2 L374.5,289.2 L374.6,288.2 L374.7,287.6 L374.7,287.0 L374.8,285.9 L374.9,284.9 L375.0,283.8 L375.0,282.7 L375.1,281.5 L375.2,280.4 L375.2,279.6 L375.3,278.8 L375.3,277.8 L375.4,276.8 L375.5,275.7 L375.5,274.5 L375.6,273.3 L375.6,272.2 L375.7,271.7 L375.7,271.1 L375.8,269.9 L375.8,268.6 L375.9,267.8 L376.0,267.0 L376.0,265.7 L376.1,264.4 L376.1,263.6 L376.2,262.8 L376.2,261.7 L376.3,260.6 L376.4,259.5 L376.4,258.5 L376.5,257.4 L376.6,256.2 L376.6,255.3 L376.7,254.3 L376.8,253.2 L376.9,252.1 L377.0,251.2 L377.1,250.3 L377.1,249.6 L377.2,248.8 L377.3,247.7 L377.4,246.6 L377.5,245.6 L377.6,244.6 L377.7,243.2 L377.8,241.9 L378.0,241.2 L378.1,240.6 L378.2,239.5 L378.3,238.4 L378.4,237.2 L378.5,236.0 L378.6,235.0 L378.7,234.0 L378.7,233.0 L378.8,232.0 L378.9,231.3 L379.0,230.7 L379.1,229.8 L379.1,228.9 L379.2,227.9 L379.2,226.9 L379.3,225.6 L379.3,224.3 L379.3,223.6 L379.4,222.9 L379.4,221.8 L379.4,220.7 L379.4,219.9 L379.3,219.1 L379.3,218.0 L379.3,216.9 L379.4,216.0 L379.4,215.0 L379.5,214.2 L379.7,213.3 L379.9,211.8 L380.1,210.4 L380.5,209.5 L380.9,208.6 L381.4,207.5 L382.0,206.8 L382.7,206.9 L383.5,207.6 L384.3,208.7 L385.0,210.0 L385.7,210.7 L386.3,211.3 L386.9,212.0 L387.4,212.2 L387.8,212.1 L388.2,211.7 L388.5,210.6 L388.8,209.3 L389.1,207.9 L389.3,206.4 L389.5,205.3 L389.7,204.4 L389.9,203.2 L390.1,202.0 L390.3,200.9 L390.5,199.9 L390.7,199.2 L390.8,198.5 L391.0,197.5 L391.2,196.6 L391.3,195.6 L391.5,194.6 L391.7,194.0 L391.8,193.4 L392.0,192.3 L392.2,191.2 L392.3,190.2 L392.5,189.1 L392.6,188.2 L392.8,187.2 L392.9,186.1 L393.1,185.0 L393.2,184.0 L393.4,183.1 L393.5,182.2 L393.6,181.3 L393.8,180.2 L393.9,179.2 L394.1,177.8 L394.2,176.4 L394.3,175.5 L394.5,174.5 L394.6,173.4 L394.7,172.3 L394.9,171.8 L395.0,171.3 L395.2,169.9 L395.3,168.5 L395.4,167.8 L395.6,167.1 L395.8,165.8 L395.9,164.5 L396.1,163.6 L396.2,162.7 L396.4,161.9 L396.6,161.1 L396.8,160.0 L397.0,158.8 L397.1,158.0 L397.3,157.2 L397.5,156.2 L397.8,155.3 L398.0,154.0 L398.2,152.7 L398.5,151.7 L398.9,151.0 L399.5,150.7 L400.2,150.9 L400.9,151.5 L401.5,152.3 L401.8,153.4 L402.2,154.7 L402.5,155.7 L402.7,156.7 L403.0,157.8 L403.3,158.7 L403.6,159.6 L403.9,160.5 L404.2,161.3 L404.4,162.1 L404.7,163.2 L405.0,164.2 L405.2,165.4 L405.5,166.5 L405.7,167.2 L405.9,168.0 L406.1,169.2 L406.4,170.4 L406.6,171.0 L406.8,171.7 L407.0,172.9 L407.2,174.0 L407.4,174.6 L407.5,175.2 L407.7,176.6 L407.9,178.0 L408.1,178.9 L408.3,179.7 L408.5,180.4 L408.7,181.1 L408.9,182.3 L409.1,183.4 L409.3,184.5 L409.5,185.7 L409.7,186.8 L409.8,187.9 L410.0,188.5 L410.2,189.1 L410.4,190.4 L410.6,191.6 L410.8,192.8 L411.0,193.9 L411.2,194.8 L411.4,195.7 L411.6,196.8 L411.8,198.0 L412.0,198.5 L412.2,199.0 L412.4,200.1 L412.6,201.2 L412.8,202.5 L413.0,203.9 L413.3,204.8 L413.5,205.7 L413.7,206.6 L413.9,207.4 L414.1,208.5 L414.3,209.7 L414.5,210.7 L414.8,211.7 L415.0,212.7 L415.2,213.7 L415.4,214.7 L415.7,215.7 L415.9,216.2 L416.1,216.7 L416.4,217.6 L416.6,218.5 L416.8,219.5 L417.1,220.5 L417.3,221.4 L417.5,222.3 L417.8,223.8 L418.0,225.3 L418.3,225.8 L418.5,226.3 L418.8,227.7 L419.0,229.0 L419.3,229.9 L419.5,230.8 L419.8,231.7 L420.0,232.5 L420.3,233.4 L420.5,234.3 L420.8,235.2 L421.1,236.2 L421.3,237.1 L421.6,238.0 L421.8,239.3 L422.1,240.7 L422.4,241.5 L422.7,242.4 L422.9,242.9 L423.2,243.5 L423.5,244.7 L423.7,245.9 L424.0,246.8 L424.3,247.6 L424.6,248.4 L424.9,249.3 L425.2,250.7 L425.4,252.1 L425.7,253.0 L426.0,253.9 L426.3,254.6 L426.6,255.3 L426.9,256.6 L427.2,257.8 L427.5,258.5 L427.8,259.2 L428.1,260.1 L428.4,261.1 L428.7,262.4 L429.0,263.7 L429.3,264.6 L429.6,265.6 L429.9,266.3 L430.2,267.0 L430.5,268.2 L430.8,269.4 L431.2,270.4 L431.5,271.3 L431.8,272.0 L432.1,272.8 L432.4,273.7 L432.8,274.6 L433.1,275.7 L433.4,276.8 L433.8,277.7 L434.1,278.5 L434.4,279.5 L434.8,280.5 L435.1,281.7 L435.5,282.9 L435.8,283.7 L436.2,284.5 L436.6,285.2 L436.9,285.9 L437.3,286.7 L437.7,287.5 L438.0,288.5 L438.4,289.5 L438.8,290.6 L439.2,291.7 L439.6,292.6 L440.0,293.4 L440.4,294.6 L440.8,295.7 L441.3,296.7 L441.7,297.7 L442.1,298.1 L442.6,298.6 L443.0,299.9 L443.5,301.2 L443.9,302.1 L444.4,303.0 L444.9,303.9 L445.4,304.8 L445.8,305.2 L446.3,305.5 L446.8,306.4 L447.3,307.3 L447.9,308.1 L448.4,308.9 L448.9,309.9 L449.5,310.9 L450.0,311.6 L450.6,312.3 L451.1,313.2 L451.7,314.1 L452.3,315.0 L452.9,315.8 L453.5,316.9 L454.1,318.0 L454.7,318.6 L455.4,319.1 L456.0,319.7 L456.7,320.4 L457.3,321.2 L458.0,322.1 L458.7,322.9 L459.3,323.7 L460.0,324.2 L460.8,324.6 L461.5,325.6 L462.2,326.7 L462.9,327.4 L463.7,328.2 L464.4,328.8 L465.2,329.5 L465.9,330.2 L466.7,330.8 L467.5,331.2 L468.3,331.5 L469.1,332.2 L469.9,332.8 L470.7,333.2 L471.5,333.6 L472.3,334.3 L473.1,334.9 L474.0,335.9 L474.8,336.9 L475.7,337.0 L476.5,337.2 L477.4,338.1 L478.2,338.9 L479.1,339.4 L480.0,339.9 L480.9,340.4 L481.7,340.9 L482.6,340.9 L483.5,340.9 L484.4,341.8 L485.3,342.6 L486.2,342.9 L487.2,343.1 L488.1,343.3 L489.0,343.5 L489.9,343.9 L490.9,344.3 L491.8,344.6 L492.7,344.8 L493.7,345.3 L494.6,345.8 L495.6,345.9 L496.5,346.0 L497.5,346.3 L498.4,346.6 L499.4,346.9 L500.3,347.2 L501.3,347.7 L502.3,348.2 L503.2,348.4 L504.2,348.5 L505.2,348.9 L506.2,349.3 L507.2,349.1 L508.1,349.0 L509.1,349.4 L510.1,349.8 L511.1,349.6 L512.1,349.4 L513.1,349.9 L514.1,350.3 L515.1,350.6 L516.1,351.0 L517.1,351.2 L518.1,351.4 L519.1,351.0 L520.1,350.6 L521.1,350.8 L522.1,351.1 L523.1,351.2 L524.1,351.3 L525.1,351.3 L526.1,351.3 L527.1,351.4 L528.1,351.5 L529.1,351.9 L530.1,352.3 L531.1,352.1 L532.1,352.0 L533.1,352.2 L534.1,352.4 L535.1,352.8 L536.1,353.1 L537.1,353.0 L538.1,352.9 L539.1,353.0 L540.1,353.1 L541.1,353.4 L542.1,353.7 L543.1,353.7 L544.1,353.7 L545.1,353.9 L546.1,354.2 L547.1,354.2 L548.1,354.2 L549.1,354.4 L550.1,354.6 L551.1,354.6 L552.1,354.6 L553.1,354.6 L554.1,354.7 L555.1,354.7 L556.1,354.8 L557.0,355.3 L558.0,355.9 L559.0,355.9 L560.0,355.9 L561.0,356.1 L562.0,356.3 L563.0,356.0 L564.0,355.6 L565.0,356.1 L566.0,356.6 L567.0,356.7 L567.9,356.8 L568.9,356.5 L569.9,356.2 L570.9,356.3 L571.9,356.3 L572.9,356.6 L573.9,356.8 L574.9,356.6 L575.9,356.4 L576.9,356.6 L577.9,356.8 L578.9,356.7 L579.9,356.5 L580.8,357.0 L581.8,357.4 L582.8,357.1 L583.8,356.9 L584.8,357.1 L585.8,357.4 L586.8,357.2 L587.8,357.0 L588.8,356.9 L589.8,356.7 L590.8,357.0 L591.8,357.2 L592.8,356.7 L593.8,356.2 L594.8,356.4 L595.8,356.6 L596.8,356.6 L597.8,356.5 L598.8,356.3 L599.8,356.1 L600.9,355.9 L601.9,355.6 L602.9,355.8 L603.9,355.9 L604.9,355.8 L605.9,355.7 L606.9,355.9 L607.9,356.0 L608.9,355.6 L609.9,355.2 L610.9,355.2 L611.9,355.2 L612.9,355.0 L613.9,354.9 L614.9,355.1 L615.9,355.2 L616.9,355.3 L617.9,355.4 L618.9,354.9 L619.9,354.4 L620.9,354.7 L621.9,354.9 L622.9,354.6 L623.9,354.2 L624.9,354.0 L625.9,353.9 L626.9,353.9 L627.9,353.9 L628.9,354.3 L629.9,354.6 L630.9,354.6 L631.9,354.5 L632.9,354.2 L633.9,353.8 L634.9,354.1 L635.9,354.5 L636.9,354.4 L637.9,354.3 L638.9,354.1 L639.9,353.8 L640.9,353.9 L641.9,353.9 L642.9,353.9 L643.9,354.0 L644.9,353.8 L645.9,353.5 L646.9,353.4 L647.9,353.4 L648.9,353.5 L649.9,353.6 L650.9,353.5 L651.9,353.4 L652.9,353.8 L653.9,354.1 L654.9,354.1 L655.9,354.0 L656.9,353.9 L657.9,353.8 L658.9,354.1 L659.9,354.4 L660.9,354.0 L661.9,353.7 L662.9,353.8 L663.9,353.9 L664.9,353.9 L665.9,354.0 L666.9,353.9 L667.9,353.9 L668.9,353.9 L669.9,353.8 L670.9,354.3 L671.9,354.7 L672.9,354.3 L673.9,353.9 L674.9,354.3 L675.9,354.7 L676.9,354.4 L677.9,354.1 L678.9,354.1 L679.9,354.0 L680.9,354.4 L681.9,354.7 L682.9,354.9 L683.9,355.1 L684.9,355.2 L685.9,355.2 L686.9,354.9 L687.9,354.6 L688.9,354.5 L689.9,354.4 L690.9,354.8 L691.9,355.3 L692.9,355.3 L693.9,355.4 L694.9,355.4 L695.9,355.5 L696.9,355.4 L697.9,355.3 L698.9,355.4 L699.9,355.5 L700.9,355.6 L701.9,355.7 L702.9,355.5 L703.9,355.3 L704.9,355.4 L705.9,355.5 L706.9,355.5 L707.9,355.5 L708.9,355.6 L709.9,355.7 L710.9,355.8 L711.9,355.8 L712.9,355.7 L713.9,355.7 L714.9,355.9 L715.9,356.0 L716.9,355.9 L717.9,355.7 L718.9,355.9 L719.9,356.1 L720.9,355.9 L721.9,355.6 L722.9,355.6 L723.9,355.5 L724.9,356.0 L725.9,356.4 L726.9,356.3 L727.9,356.2 L728.9,356.0 L730.0,355.7 L731.0,355.9 L732.0,356.1 L733.0,356.3 L734.0,356.6 L735.0,356.1 L736.0,355.6 L737.0,355.6 L738.0,355.6 L739.0,355.9 L740.0,356.3 L741.0,356.0 L742.0,355.8 L743.0,356.1 L744.0,356.4 L745.0,356.3 L746.0,356.2 L747.0,356.3 L748.0,356.3 L749.0,356.0 L750.0,355.7 L751.0,355.7 L752.0,355.7 L753.0,356.0 L754.0,356.2 L755.0,356.1 L756.0,356.0 L757.0,355.8 L758.0,355.6 L759.0,355.7 L760.0,355.9 L761.0,356.0 L762.0,356.2 L763.0,355.9 L764.0,355.6 L765.0,356.0 L766.0,356.3 L767.0,356.3 L768.0,356.3 L769.0,356.3 L770.0,356.3 L771.0,356.1 L772.0,355.9 L773.0,355.7"/>
<path stroke="#008080" d="M22.0,268.4 L23.0,268.5 L24.0,268.5 L25.0,268.8 L26.0,269.0 L27.0,269.0 L28.0,269.1 L29.0,269.3 L30.0,269.5 L31.0,269.2 L32.0,268.9 L33.0,269.2 L34.0,269.6 L35.0,269.7 L36.0,269.8 L37.0,269.4 L38.0,268.9 L39.0,269.2 L40.0,269.6 L41.0,269.7 L42.0,269.9 L43.0,270.0 L44.0,270.2 L45.0,269.9 L46.0,269.5 L47.0,270.0 L48.0,270.4 L49.0,270.2 L50.0,270.0 L51.0,270.3 L52.0,270.6 L53.0,270.2 L54.0,269.8 L55.0,269.9 L56.0,270.0 L57.0,270.5 L58.0,271.0 L59.0,270.9 L60.0,270.7 L61.0,270.7 L62.0,270.6 L63.0,270.5 L64.0,270.4 L65.0,270.8 L66.0,271.1 L67.0,270.8 L68.0,270.5 L69.0,270.7 L70.0,270.9 L71.0,270.9 L72.0,271.0 L73.0,271.2 L74.0,271.3 L75.0,271.4 L76.0,271.5 L77.0,271.6 L78.0,271.8 L79.0,271.8 L80.0,271.9 L81.0,271.8 L82.0,271.7 L83.0,271.7 L84.0,271.6 L85.0,271.6 L86.0,271.5 L87.0,271.8 L88.0,272.2 L89.0,271.7 L90.0,271.3 L91.0,271.7 L92.0,272.2 L93.0,271.8 L94.0,271.5 L95.0,271.7 L96.0,271.8 L97.0,271.9 L98.0,272.0 L99.0,271.7 L100.0,271.5 L101.0,271.5 L102.0,271.4 L103.0,271.6 L104.0,271.8 L105.0,271.9 L106.0,272.1 L107.0,272.0 L108.1,272.0 L109.1,271.6 L110.1,271.3 L111.1,271.7 L112.1,272.1 L113.1,271.9 L114.1,271.6 L115.1,271.8 L116.1,272.1 L117.1,271.8 L118.1,271.6 L119.1,271.3 L120.1,271.0 L121.1,271.0 L122.1,271.0 L123.1,271.3 L124.1,271.6 L125.1,271.5 L126.1,271.4 L127.1,271.4 L128.1,271.5 L129.1,271.1 L130.1,270.8 L131.1,270.8 L132.1,270.9 L133.1,270.9 L134.1,270.9 L135.1,270.8 L136.1,270.7 L137.1,270.4 L138.1,270.2 L139.0,270.2 L140.0,270.2 L141.0,270.1 L142.0,269.9 L143.0,270.1 L144.0,270.4 L145.0,270.4 L146.0,270.4 L147.0,269.8 L148.0,269.2 L149.0,269.5 L150.0,269.8 L151.0,269.5 L152.0,269.2 L153.0,269.3 L154.0,269.3 L155.0,269.0 L156.0,268.8 L157.0,268.9 L158.0,269.0 L159.0,268.8 L160.0,268.6 L161.0,268.5 L162.0,268.4 L163.0,268.6 L163.9,268.9 L164.9,268.9 L165.9,268.8 L166.9,268.6 L167.9,268.4 L168.9,268.2 L169.9,267.9 L170.9,268.3 L171.9,268.7 L172.9,268.6 L173.9,268.5 L174.9,268.6 L175.9,268.6 L176.9,268.3 L177.9,268.1 L178.9,268.5 L179.9,268.9 L180.9,268.6 L181.9,268.3 L182.9,268.6 L183.9,268.9 L184.9,269.0 L185.9,269.2 L186.9,269.3 L187.9,269.4 L188.9,269.3 L189.9,269.2 L190.9,269.5 L191.9,269.8 L192.9,270.0 L193.9,270.2 L194.9,270.1 L195.9,270.0 L196.9,269.9 L197.9,269.7 L198.9,269.9 L199.9,270.0 L200.9,270.1 L201.9,270.2 L202.9,270.4 L203.9,270.5 L204.9,270.6 L205.9,270.7 L206.9,271.2 L207.9,271.6 L208.9,271.3 L209.9,271.0 L210.9,271.3 L211.9,271.5 L212.9,271.9 L213.9,272.4 L214.9,272.5 L215.9,272.6 L216.9,272.5 L217.9,272.4 L218.9,272.7 L219.9,273.0 L220.9,272.5 L221.9,272.1 L222.9,272.6 L223.9,273.2 L224.9,272.9 L225.9,272.5 L226.9,272.8 L227.9,273.1 L228.9,273.1 L229.9,273.2 L230.9,273.2 L231.9,273.2 L232.8,273.0 L233.8,272.7 L234.8,272.9 L235.8,273.2 L236.8,272.7 L237.8,272.3 L238.8,272.6 L239.8,272.9 L240.8,272.6 L241.8,272.4 L242.8,272.4 L243.8,272.5 L244.8,271.9 L245.8,271.2 L246.8,271.4 L247.8,271.6 L248.7,271.3 L249.7,271.0 L250.7,270.7 L251.6,270.4 L252.6,270.0 L253.5,269.5 L254.5,269.2 L255.4,268.9 L256.3,268.4 L257.1,267.9 L258.0,267.4 L258.8,266.8 L259.7,266.6 L260.5,266.3 L261.4,265.6 L262.3,265.0 L263.2,264.3 L264.2,263.8 L265.2,263.9 L266.2,264.1 L267.2,263.8 L268.3,263.6 L269.3,263.7 L270.4,263.8 L271.4,263.8 L272.3,263.8 L273.3,263.9 L274.3,264.1 L275.2,264.6 L276.2,265.2 L277.1,264.9 L278.1,264.6 L279.0,265.4 L280.0,266.1 L280.9,266.4 L281.9,266.7 L282.9,266.6 L283.8,266.6 L284.8,266.8 L285.8,267.0 L286.8,267.4 L287.7,267.9 L288.7,267.9 L289.7,267.9 L290.7,268.5 L291.6,269.1 L292.6,269.0 L293.6,268.9 L294.6,269.1 L295.6,269.3 L296.6,269.9 L297.6,270.4 L298.6,270.5 L299.5,270.6 L300.5,270.5 L301.5,270.4 L302.5,270.7 L303.5,271.0 L304.5,270.7 L305.5,270.5 L306.5,270.9 L307.4,271.2 L308.4,270.9 L309.4,270.6 L310.4,270.5 L311.4,270.3 L312.4,270.1 L313.4,269.9 L314.4,270.3 L315.3,270.8 L316.3,270.3 L317.3,269.9 L318.3,269.9 L319.3,269.9 L320.3,269.7 L321.3,269.5 L322.2,269.3 L323.2,269.2 L324.2,268.6 L325.2,268.0 L326.2,268.2 L327.1,268.5 L328.1,268.2 L329.1,267.9 L330.1,267.5 L331.1,267.0 L332.0,266.9 L333.0,266.8 L334.0,266.1 L335.0,265.4 L335.9,265.3 L336.9,265.1 L337.8,264.6 L338.8,264.1 L339.7,263.9 L340.7,263.6 L341.6,263.0 L342.6,262.4 L343.5,262.3 L344.4,262.1 L345.3,261.3 L346.2,260.4 L347.1,259.9 L348.0,259.4 L348.8,258.9 L349.7,258.4 L350.5,257.9 L351.4,257.4 L352.2,257.0 L353.0,256.6 L353.8,256.3 L354.6,256.0 L355.3,254.9 L356.1,253.8 L356.8,253.5 L357.6,253.1 L358.3,252.4 L358.9,251.6 L359.6,250.8 L360.3,250.0 L360.9,249.2 L361.5,248.4 L362.1,247.6 L362.7,246.8 L363.2,245.9 L363.8,245.0 L364.3,244.6 L364.8,244.1 L365.2,243.2 L365.7,242.3 L366.1,241.3 L366.5,240.3 L367.0,239.5 L367.3,238.7 L367.7,237.4 L368.1,236.2 L368.4,235.7 L368.7,235.2 L369.1,234.1 L369.3,233.1 L369.6,232.0 L369.9,230.9 L370.2,229.8 L370.4,228.6 L370.7,227.7 L370.9,226.7 L371.1,225.7 L371.3,224.7 L371.5,224.0 L371.7,223.2 L371.9,222.1 L372.1,221.1 L372.2,219.9 L372.4,218.6 L372.5,217.7 L372.7,216.7 L372.8,215.9 L373.0,215.1 L373.1,214.1 L373.2,213.1 L373.3,212.0 L373.4,210.8 L373.6,209.9 L373.7,208.9 L373.8,207.7 L373.8,206.5 L373.9,205.8 L374.0,205.1 L374.1,204.1 L374.2,203.1 L374.3,201.9 L374.3,200.8 L374.4,200.0 L374.5,199.2 L374.5,198.2 L374.6,197.2 L374.6,196.2 L374.7,195.2 L374.8,193.8 L374.8,192.4 L374.9,191.7 L374.9,190.9 L375.0,190.1 L375.0,189.3 L375.1,188.3 L375.1,187.2 L375.1,186.0 L375.2,184.8 L375.2,184.2 L375.3,183.5 L375.3,182.1 L375.4,180.7 L375.4,179.7 L375.5,178.8 L375.5,178.1 L375.6,177.5 L375.6,176.4 L375.6,175.3 L375.7,174.4 L375.7,173.4 L375.8,171.9 L375.8,170.4 L375.9,169.6 L375.9,168.8 L376.0,167.8 L376.0,166.7 L376.1,165.7 L376.1,164.7 L376.2,164.0 L376.2,163.2 L376.3,162.2 L376.3,161.2 L376.4,160.0 L376.4,158.9 L376.5,157.8 L376.5,156.8 L376.6,155.9 L376.6,155.0 L376.7,154.0 L376.7,152.9 L376.8,151.9 L376.8,150.9 L376.9,150.0 L376.9,149.0 L377.0,147.9 L377.0,146.7 L377.1,145.9 L377.1,145.1 L377.2,143.8 L377.3,142.6 L377.3,141.8 L377.4,141.0 L377.4,140.2 L377.5,139.3 L377.5,137.8 L377.6,136.3 L377.7,135.7 L377.7,135.0 L377.8,133.7 L377.9,132.4 L377.9,131.6 L378.0,130.8 L378.1,129.9 L378.1,128.9 L378.2,127.7 L378.3,126.5 L378.3,125.9 L378.4,125.3 L378.5,124.1 L378.5,123.0 L378.6,121.8 L378.7,120.5 L378.8,119.9 L378.8,119.2 L378.9,117.8 L379.0,116.5 L379.1,115.7 L379.1,115.0 L379.2,113.7 L379.3,112.5 L379.4,111.8 L379.5,111.1 L379.6,109.9 L379.7,108.7 L379.7,107.9 L379.8,107.1 L379.9,106.2 L380.0,105.2 L380.1,104.1 L380.3,102.9 L380.5,102.0 L380.9,101.1 L381.5,100.4 L382.3,99.9 L383.0,100.2 L383.5,101.1 L384.0,102.2 L384.3,103.1 L384.6,104.0 L384.8,104.9 L385.0,105.8 L385.2,106.7 L385.3,107.9 L385.5,109.0 L385.7,109.9 L385.9,110.7 L386.2,111.4 L386.5,112.1 L387.0,113.4 L387.6,114.6 L388.2,115.6 L388.9,116.1 L389.4,115.3 L389.8,114.0 L390.2,113.2 L390.5,112.3 L390.8,111.1 L391.0,109.9 L391.3,108.7 L391.5,107.6 L391.7,106.4 L391.8,105.3 L392.0,104.5 L392.2,103.6 L392.3,103.1 L392.5,102.6 L392.6,101.2 L392.8,99.8 L392.9,99.0 L393.1,98.2 L393.2,97.3 L393.4,96.5 L393.5,95.2 L393.7,94.0 L393.9,93.4 L394.0,92.8 L394.2,91.3 L394.3,89.8 L394.5,89.0 L394.7,88.2 L394.8,87.2 L395.0,86.2 L395.2,85.0 L395.3,83.8 L395.5,82.9 L395.7,82.1 L395.9,81.1 L396.1,80.2 L396.3,79.4 L396.5,78.7 L396.7,77.7 L396.9,76.7 L397.1,75.7 L397.3,74.7 L397.6,73.9 L397.9,73.0 L398.1,71.9 L398.5,70.8 L398.8,69.7 L399.2,68.6 L399.7,67.8 L400.4,67.3 L401.3,67.2 L402.0,67.6 L402.4,68.8 L402.7,70.3 L402.9,71.3 L403.2,72.2 L403.4,73.4 L403.6,74.5 L403.8,75.0 L404.1,75.4 L404.3,76.5 L404.5,77.5 L404.8,78.7 L405.0,79.9 L405.3,80.7 L405.5,81.5 L405.8,82.5 L406.0,83.5 L406.3,84.4 L406.6,85.2 L406.8,86.3 L407.1,87.5 L407.3,88.6 L407.6,89.8 L407.8,90.4 L408.1,91.0 L408.3,92.3 L408.6,93.6 L408.8,94.7 L409.1,95.8 L409.3,96.3 L409.6,96.7 L409.8,97.8 L410.0,99.0 L410.3,99.9 L410.5,100.8 L410.7,102.2 L411.0,103.5 L411.2,104.1 L411.4,104.7 L411.7,106.2 L411.9,107.7 L412.1,108.4 L412.3,109.0 L412.6,110.3 L412.8,111.5 L413.0,112.1 L413.2,112.7 L413.4,113.8 L413.6,114.9 L413.9,116.1 L414.1,117.3 L414.3,118.2 L414.5,119.0 L414.7,119.9 L414.9,120.8 L415.1,121.8 L415.4,122.8 L415.6,123.8 L415.8,124.8 L416.0,125.7 L416.2,126.6 L416.4,127.4 L416.6,128.2 L416.8,129.2 L417.0,130.1 L417.2,131.1 L417.5,132.0 L417.7,133.0 L417.9,133.9 L418.1,135.1 L418.3,136.3 L418.5,137.5 L418.7,138.6 L418.9,139.3 L419.1,140.0 L419.3,140.8 L419.6,141.6 L419.8,142.7 L420.0,143.9 L420.2,145.0 L420.4,146.0 L420.6,146.9 L420.8,147.7 L421.1,148.9 L421.3,150.1 L421.5,151.1 L421.7,152.2 L421.9,153.1 L422.1,154.0 L422.4,154.9 L422.6,155.8 L422.8,156.6 L423.0,157.4 L423.3,158.5 L423.5,159.6 L423.7,160.2 L423.9,160.8 L424.2,162.3 L424.4,163.8 L424.6,164.3 L424.9,164.8 L425.1,166.2 L425.4,167.6 L425.6,168.5 L425.8,169.4 L426.1,170.4 L426.3,171.4 L426.6,172.0 L426.8,172.7 L427.1,173.7 L427.3,174.6 L427.6,175.7 L427.9,176.8 L428.1,178.0 L428.4,179.2 L428.6,180.0 L428.9,180.8 L429.2,182.0 L429.5,183.3 L429.7,183.9 L430.0,184.6 L430.3,185.7 L430.6,186.9 L430.9,188.0 L431.2,189.2 L431.5,190.0 L431.8,190.8 L432.1,191.5 L432.4,192.1 L432.7,193.3 L433.0,194.5 L433.3,195.4 L433.6,196.3 L434.0,197.4 L434.3,198.5 L434.6,199.3 L435.0,200.2 L435.3,201.0 L435.7,201.9 L436.0,203.2 L436.4,204.4 L436.7,205.4 L437.1,206.3 L437.5,207.4 L437.9,208.4 L438.3,209.0 L438.7,209.5 L439.1,210.8 L439.5,212.1 L439.9,213.0 L440.3,213.9 L440.7,214.8 L441.1,215.6 L441.6,216.2 L442.0,216.9 L442.5,217.8 L442.9,218.7 L443.4,219.7 L443.9,220.7 L444.3,221.6 L444.8,222.6 L445.3,223.4 L445.8,224.2 L446.3,225.0 L446.8,225.9 L447.4,226.9 L447.9,228.0 L448.4,228.8 L449.0,229.6 L449.5,230.4 L450.1,231.2 L450.7,232.0 L451.2,232.8 L451.8,233.4 L452.4,234.1 L453.0,235.0 L453.6,236.0 L454.3,236.6 L454.9,237.1 L455.5,237.8 L456.2,238.6 L456.9,239.1 L457.5,239.7 L458.2,240.6 L458.9,241.4 L459.6,241.8 L460.3,242.1 L461.0,242.8 L461.8,243.5 L462.5,244.1 L463.3,244.8 L464.0,245.7 L464.8,246.6 L465.6,246.9 L466.4,247.2 L467.2,247.9 L468.0,248.5 L468.8,248.9 L469.6,249.3 L470.4,250.0 L471.3,250.6 L472.1,251.5 L473.0,252.4 L473.9,252.7 L474.8,252.9 L475.6,253.2 L476.5,253.5 L477.4,254.2 L478.3,254.8 L479.2,255.5 L480.2,256.2 L481.1,256.5 L482.0,256.9 L482.9,257.1 L483.9,257.2 L484.8,257.5 L485.8,257.9 L486.7,258.5 L487.7,259.1 L488.6,259.2 L489.6,259.3 L490.6,259.6 L491.5,260.0 L492.5,260.2 L493.5,260.4 L494.5,261.1 L495.4,261.9 L496.4,261.9 L497.4,262.0 L498.4,262.3 L499.4,262.7 L500.4,263.0 L501.3,263.4 L502.3,263.6 L503.3,263.9 L504.3,263.9 L505.3,264.0 L506.3,264.0 L507.3,264.1 L508.3,264.7 L509.3,265.2 L510.3,264.9 L511.2,264.7 L512.2,265.4 L513.2,266.0 L514.2,266.0 L515.2,265.9 L516.2,266.3 L517.2,266.6 L518.2,266.6 L519.1,266.5 L520.1,266.5 L521.1,266.4 L522.1,266.5 L523.1,266.7 L524.1,266.9 L525.1,267.2 L526.0,267.5 L527.0,267.8 L528.0,267.5 L529.0,267.2 L530.0,267.5 L531.0,267.7 L531.9,267.7 L532.9,267.7 L533.9,268.1 L534.9,268.4 L535.9,268.5 L536.9,268.6 L537.9,268.5 L538.9,268.4 L539.9,268.3 L540.8,268.3 L541.8,268.3 L542.8,268.3 L543.8,268.5 L544.8,268.6 L545.8,268.7 L546.8,268.9 L547.8,269.1 L548.8,269.4 L549.8,269.6 L550.8,269.9 L551.8,269.6 L552.8,269.2 L553.8,269.8 L554.8,270.3 L555.8,270.2 L556.8,270.2 L557.8,270.3 L558.8,270.4 L559.8,270.6 L560.8,270.8 L561.8,270.6 L562.8,270.4 L563.8,270.5 L564.8,270.6 L565.8,270.8 L566.8,270.9 L567.8,270.9 L568.8,270.9 L569.8,270.8 L570.8,270.8 L571.8,270.7 L572.8,270.7 L573.8,270.9 L574.8,271.0 L575.8,271.3 L576.8,271.7 L577.8,271.6 L578.8,271.6 L579.8,271.7 L580.8,271.9 L581.8,271.8 L582.8,271.6 L583.8,271.5 L584.8,271.4 L585.8,271.7 L586.8,271.9 L587.8,271.8 L588.8,271.6 L589.8,271.5 L590.8,271.3 L591.8,271.8 L592.8,272.3 L593.8,272.1 L594.8,271.8 L595.8,271.8 L596.8,271.8 L597.8,272.0 L598.8,272.1 L599.8,272.2 L600.8,272.3 L601.9,271.8 L602.9,271.3 L603.9,271.4 L604.9,271.4 L605.9,271.4 L606.9,271.5 L607.9,271.4 L608.9,271.3 L609.9,271.4 L610.9,271.5 L611.9,271.6 L612.9,271.8 L613.9,271.7 L614.9,271.7 L615.9,271.5 L616.9,271.3 L617.9,271.1 L618.9,270.8 L619.9,270.7 L620.9,270.6 L621.9,270.9 L622.9,271.1 L623.9,270.8 L624.9,270.5 L625.9,270.6 L626.9,270.7 L627.9,270.7 L628.9,270.8 L629.9,270.5 L630.9,270.1 L631.9,270.0 L632.9,269.9 L633.9,269.8 L634.9,269.7 L635.9,269.7 L636.9,269.7 L637.9,270.0 L638.9,270.4 L639.9,269.9 L640.9,269.5 L641.9,269.5 L642.9,269.5 L643.9,269.4 L644.9,269.3 L645.9,269.6 L646.9,269.9 L647.9,269.7 L648.9,269.4 L649.9,269.5 L650.9,269.6 L651.9,269.4 L652.9,269.2 L653.9,269.3 L654.9,269.5 L655.9,269.5 L656.9,269.5 L657.9,269.5 L658.9,269.5 L659.9,269.5 L660.9,269.5 L661.9,269.3 L662.9,269.1 L663.9,269.5 L664.9,269.9 L665.9,269.5 L666.9,269.2 L667.9,269.4 L668.9,269.5 L669.9,269.5 L670.9,269.4 L671.9,269.4 L672.9,269.5 L673.9,269.7 L674.9,269.9 L675.9,269.9 L676.9,269.8 L677.9,269.6 L678.9,269.5 L679.9,269.7 L680.9,269.8 L681.9,269.8 L682.9,269.7 L683.9,270.0 L684.9,270.2 L685.9,270.0 L686.9,269.7 L687.9,270.1 L688.9,270.5 L689.9,270.3 L690.9,270.2 L691.9,270.2 L692.9,270.2 L693.9,270.1 L694.9,270.0 L695.9,270.0 L696.9,270.0 L697.9,270.2 L698.9,270.4 L699.9,270.7 L700.9,271.0 L701.9,270.6 L702.9,270.2 L703.9,270.3 L704.9,270.4 L705.9,270.7 L706.9,271.0 L707.9,271.0 L708.9,270.9 L709.9,270.8 L710.9,270.6 L711.9,270.6 L712.9,270.7 L713.9,270.8 L714.9,270.9 L715.9,271.0 L716.9,271.1 L717.9,271.2 L718.9,271.3 L719.9,271.4 L720.9,271.5 L721.9,271.5 L722.9,271.4 L723.9,271.2 L724.9,271.0 L725.9,271.4 L726.9,271.8 L727.9,271.7 L729.0,271.7 L730.0,271.4 L731.0,271.2 L732.0,271.2 L733.0,271.2 L734.0,271.6 L735.0,271.9 L736.0,271.5 L737.0,271.1 L738.0,271.4 L739.0,271.7 L740.0,271.5 L741.0,271.3 L742.0,271.6 L743.0,271.9 L744.0,271.7 L745.0,271.4 L746.0,271.6 L747.0,271.8 L748.0,271.5 L749.0,271.2 L750.0,271.4 L751.0,271.6 L752.0,271.7 L753.0,271.9 L754.0,271.7 L755.0,271.4 L756.0,271.3 L757.0,271.1 L758.0,271.4 L759.0,271.6 L760.0,271.7 L761.0,271.7 L762.0,271.4 L763.0,271.1 L764.0,271.2 L765.0,271.2 L766.0,271.4 L767.0,271.7 L768.0,271.6 L769.0,271.5 L770.0,271.4 L771.0,271.3 L772.0,271.2 L773.0,271.0"/>
</g>
<g stroke="#000" stroke-width="2" fill="none">
<path d="M22,0.9 H773.9 V563.9 H22 Z" stroke-width="2"/>
<line x1="68.99" y1="558.9" x2="68.99" y2="563.9"/><line x1="115.97" y1="553.4" x2="115.97" y2="563.9"/><line x1="162.96" y1="558.9" x2="162.96" y2="563.9"/><line x1="209.95" y1="553.4" x2="209.95" y2="563.9"/><line x1="256.94" y1="558.9" x2="256.94" y2="563.9"/><line x1="303.93" y1="553.4" x2="303.93" y2="563.9"/><line x1="350.91" y1="558.9" x2="350.91" y2="563.9"/><line x1="397.90" y1="553.4" x2="397.90" y2="563.9"/><line x1="444.89" y1="558.9" x2="444.89" y2="563.9"/><line x1="491.88" y1="553.4" x2="491.88" y2="563.9"/><line x1="538.86" y1="558.9" x2="538.86" y2="563.9"/><line x1="585.85" y1="553.4" x2="585.85" y2="563.9"/><line x1="632.84" y1="558.9" x2="632.84" y2="563.9"/><line x1="679.82" y1="553.4" x2="679.82" y2="563.9"/><line x1="726.81" y1="558.9" x2="726.81" y2="563.9"/>
</g>
<text x="22.0" y="600" text-anchor="middle">200</text><text x="116.0" y="600" text-anchor="middle">150</text><text x="209.9" y="600" text-anchor="middle">100</text><text x="303.9" y="600" text-anchor="middle">50</text><text x="397.9" y="600" text-anchor="middle">0</text><text x="491.9" y="600" text-anchor="middle">-50</text><text x="585.9" y="600" text-anchor="middle">-100</text><text x="679.8" y="600" text-anchor="middle">-150</text><text x="773.8" y="600" text-anchor="middle">-200</text>
<text x="341" y="655.5" style="font-size:34px;letter-spacing:-0.4px">δ <tspan style="font-weight:normal">(</tspan>ppm<tspan style="font-weight:normal">)</tspan></text>
<text class="t" x="671" y="258">115°C</text>
<text class="t" x="670" y="341">105°C</text>
<text class="t" x="681.6" y="431">95°C</text>
<text class="t" x="683.7" y="523">85°C</text>
<text class="t" transform="translate(271.4,218.2) rotate(-90)">68.2</text>
<text transform="translate(366.3,101.8) rotate(-90)">8.4</text>
<text transform="translate(406.4,76.7) rotate(-90)">-0.6</text>
</svg>
</body></html>
